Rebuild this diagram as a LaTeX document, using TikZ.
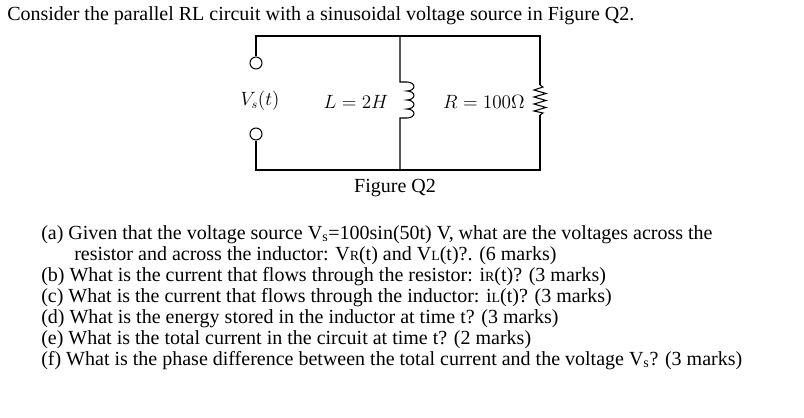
\documentclass[tikz,border=0pt]{standalone}
\usepackage{fontspec}
\setmainfont{Liberation Serif}
\newcommand{\sm}[1]{{\fontsize{10.5}{10.5}\selectfont #1}}
\begin{document}
\begin{tikzpicture}[x=0.75pt,y=-0.75pt,
  wire/.style={line width=0.8pt},
  term/.style={circle,draw,line width=0.8pt,minimum size=9pt,inner sep=0pt,fill=white},
  qtext/.style={anchor=base west,inner sep=0pt,font=\fontsize{15}{17}\selectfont},
  clabel/.style={inner sep=0pt,font=\fontsize{13.5}{15}\selectfont}]
\useasboundingbox (0,0) rectangle (804,418);
\node[qtext] (title) at (7,20) {Consider the parallel RL circuit with a sinusoidal voltage source in Figure Q2.};
% circuit
\coordinate (tl) at (256,36);
\coordinate (bl) at (256,170);
\coordinate (tm) at (400,36);
\coordinate (bm) at (400,170);
\coordinate (tr) at (540,36);
\coordinate (br) at (540,170);
\node[term] (t1) at (256,63) {};
\node[term] (t2) at (256,134) {};
\draw[wire] (t1) -- (tl) -- (tr) -- (540,85);
\draw[wire] (t2) -- (bl) -- (br) -- (540,115);
\draw[wire] (tm) -- (400,82) -- (407,82)
  arc[start angle=-90,end angle=90,x radius=7,y radius=4.5]
  arc[start angle=-90,end angle=90,x radius=7,y radius=4.5]
  arc[start angle=-90,end angle=90,x radius=7,y radius=4.5]
  arc[start angle=-90,end angle=90,x radius=7,y radius=4.5]
  -- (400,118) -- (bm);
% resistor zigzag
\draw[wire] (540,85) -- (543,87) -- (534,90) -- (546,93.5) -- (534,97) -- (546,100.5) -- (534,104) -- (546,107.5) -- (534,111) -- (543,113) -- (540,115);
\node[clabel] (vs) at (260,101) {$V_s(t)$};
\node[clabel] (lab) at (356,102) {$L=2H$};
\node[clabel] (rab) at (484,102) {$R=100\Omega$};
\node[qtext, anchor=base] (fig) at (395,192) {Figure Q2};
\node[qtext] (qa) at (41,239) {(a) Given that the voltage source V\textsubscript{s}=100sin(50t) V, what are the voltages across the};
\node[qtext] (qa2) at (74,260) {resistor and across the inductor: V\sm{R}(t) and V\sm{L}(t)?. (6 marks)};
\node[qtext] (qb) at (41,281) {(b) What is the current that flows through the resistor: i\sm{R}(t)? (3 marks)};
\node[qtext] (qc) at (41,302) {(c) What is the current that flows through the inductor: i\sm{L}(t)? (3 marks)};
\node[qtext] (qd) at (41,323) {(d) What is the energy stored in the inductor at time t? (3 marks)};
\node[qtext] (qe) at (41,344) {(e) What is the total current in the circuit at time t? (2 marks)};
\node[qtext] (qf) at (41,365) {(f) What is the phase difference between the total current and the voltage V\textsubscript{s}? (3 marks)};
\end{tikzpicture}
\end{document}
